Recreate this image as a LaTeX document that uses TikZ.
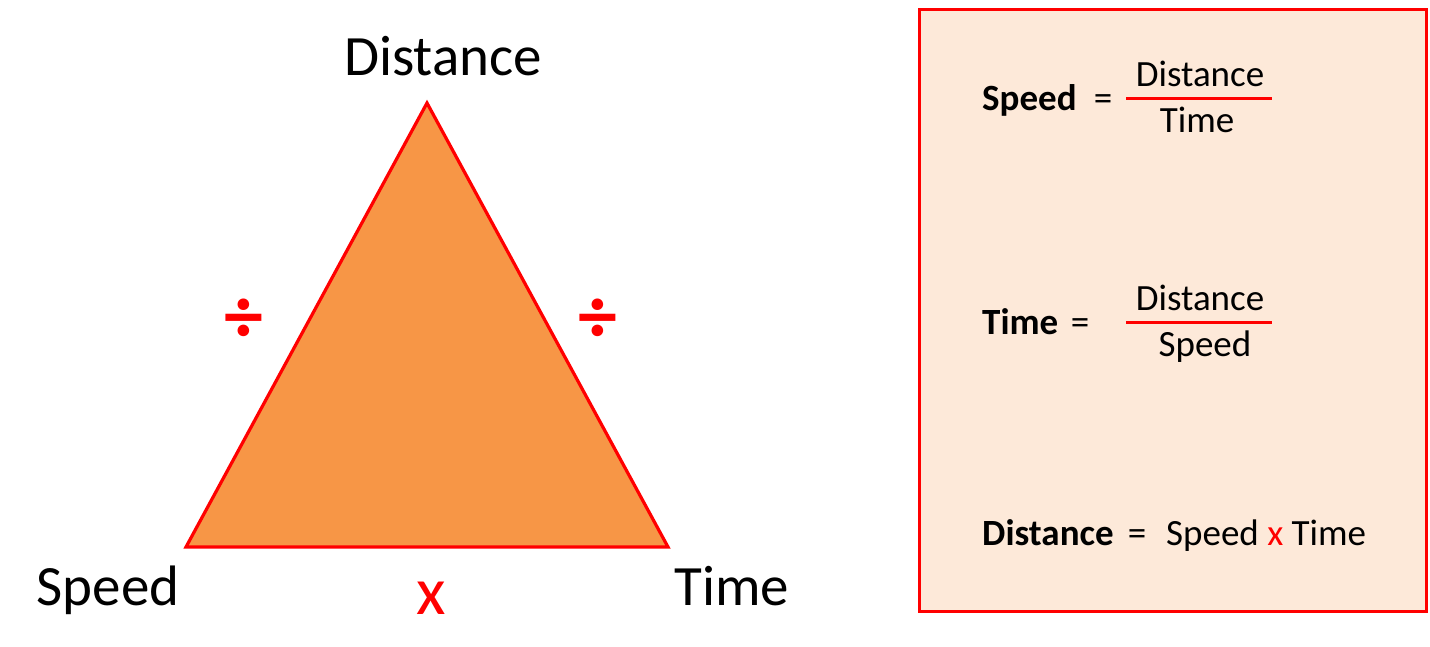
\documentclass[tikz,border=0pt]{standalone}
\usepackage{fontspec}
\setmainfont{Carlito}
\definecolor{tri}{HTML}{F79646}
\definecolor{boxfill}{HTML}{FDE9D9}
\definecolor{myred}{HTML}{FF0000}
\begin{document}
\begin{tikzpicture}[x=1pt,y=-1pt,
  big/.style={font=\fontsize{57}{60}\selectfont, inner sep=0pt, anchor=base},
  eq/.style={font=\fontsize{37}{40}\selectfont, inner sep=0pt, anchor=base},
  eqb/.style={font=\fontsize{37}{40}\selectfont\bfseries, inner sep=0pt, anchor=base west},
  op/.style={font=\fontsize{68}{70}\selectfont, text=myred, inner sep=0pt, anchor=base},
  divop/.style={font=\fontsize{78}{80}\selectfont\bfseries, text=myred, inner sep=0pt},
  fracline/.style={draw=myred, line width=3pt}]
\useasboundingbox (0,0) rectangle (1430,646);
% triangle
\coordinate (A) at (427,103);
\coordinate (B) at (186,547);
\coordinate (C) at (668,547);
\filldraw[fill=tri, draw=myred, line width=3.2pt, line join=miter] (A) -- (B) -- (C) -- cycle;
\node[big] (dist) at (443,75) {Distance};
\node[big] (spd) at (108,605) {Speed};
\node[big] (tim) at (732,605) {Time};
\node[op] (mul) at (431,614) {x};
\node[divop] (divl) at (244,321) {÷};
\node[divop] (divr) at (598,321) {÷};
% box
\filldraw[fill=boxfill, draw=myred, line width=3pt] (919,9) rectangle (1426,611);
% equation 1
\node[eqb] (s1) at (982,110) {Speed};
\node[eq] (eq1) at (1103,110) {=};
\coordinate (f1a) at (1126,98);
\coordinate (f1b) at (1272,98);
\draw[fracline] (f1a) -- (f1b);
\node[eq] (n1) at (1200,86) {Distance};
\node[eq] (d1) at (1197,132) {Time};
% equation 2
\node[eqb] (t2) at (982,334) {Time};
\node[eq] (eq2) at (1080,334) {=};
\coordinate (f2a) at (1126,322);
\coordinate (f2b) at (1272,322);
\draw[fracline] (f2a) -- (f2b);
\node[eq] (n2) at (1200,310) {Distance};
\node[eq] (d2) at (1205,356) {Speed};
% equation 3
\node[eqb] (d3) at (982,545) {Distance};
\node[eq] (eq3) at (1137,545) {=};
\node[eq, anchor=base west] (r3) at (1166,545) {Speed {\color{myred}x} Time};
\end{tikzpicture}
\end{document}
